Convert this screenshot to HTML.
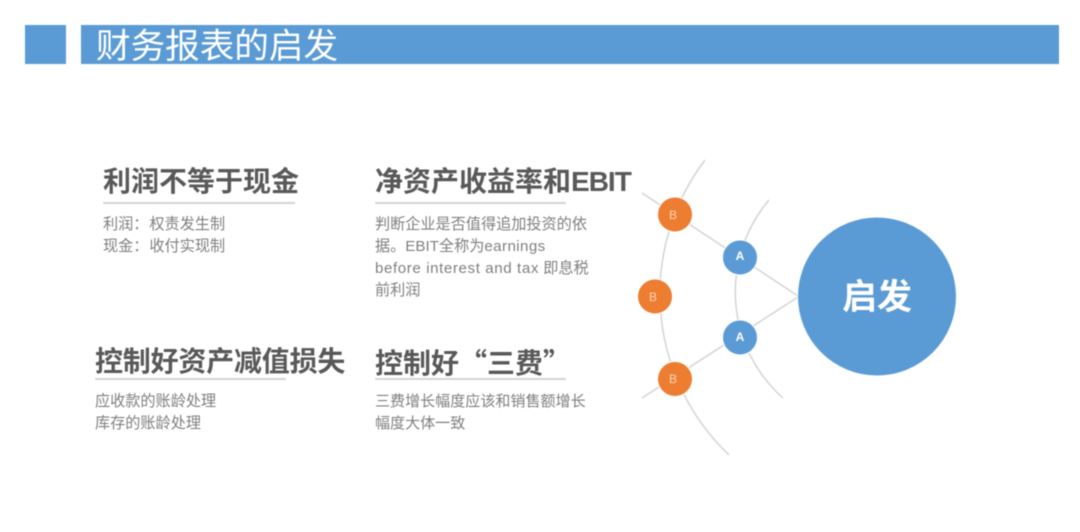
<!DOCTYPE html>
<html lang="zh"><head><meta charset="utf-8"><style>
html,body{margin:0;padding:0;background:#fff}
#p{position:relative;width:1080px;height:532px;overflow:hidden;background:#fff;font-family:"Liberation Sans","Noto Sans CJK SC",sans-serif;filter:blur(.4px)}
.t{position:absolute;white-space:nowrap}
.h{font-size:28px;font-weight:700;color:#595959;line-height:36px}
.b{font-size:15.15px;color:#7f7f7f;line-height:22px}
.r{position:absolute;height:2px;background:#d4d4d4}
.box{position:absolute;background:#5b9bd5}
.q{font-family:"Noto Sans CJK SC",sans-serif}
.w{letter-spacing:.58px}
svg{position:absolute;left:0;top:0}
</style></head><body><div id="p">
<div class="box" style="left:25px;top:25px;width:41px;height:39px"></div>
<div class="box" style="left:80.5px;top:25px;width:978.5px;height:39px"></div>
<div class="t" style="left:96px;top:22.5px;font-size:34.6px;line-height:48px;color:#fff;font-weight:400">财务报表的启发</div>

<div class="t h" style="left:103px;top:164px">利润不等于现金</div>
<div class="r" style="left:103px;top:202px;width:192px"></div>
<div class="t b" style="left:103px;top:213.5px">利润<span style="letter-spacing:1px">：</span>权责发生制<br>现金<span style="letter-spacing:1px">：</span>收付实现制</div>

<div class="t h" style="left:375px;top:164px">净资产收益率和<span style="letter-spacing:-1px">EBIT</span></div>
<div class="r" style="left:375px;top:202px;width:191px"></div>
<div class="t b" style="left:375px;top:214px">判断企业是否值得追加投资的依<br>据。EBIT全称为<span style="letter-spacing:.4px">earnings</span><br><span class="w">before interest and tax</span> 即息税<br>前利润</div>

<div class="t h" style="left:95px;top:343.5px;letter-spacing:-.2px">控制好资产减值损失</div>
<div class="r" style="left:95px;top:378px;width:191px"></div>
<div class="t b" style="left:95px;top:391px">应收款的账龄处理<br>库存的账龄处理</div>

<div class="t h" style="left:375px;top:343.5px">控制好<span class="q">“</span>三费<span class="q">”</span></div>
<div class="r" style="left:375px;top:378px;width:191px"></div>
<div class="t b" style="left:375px;top:391px;font-size:15.05px">三费增长幅度应该和销售额增长<br>幅度大体一致</div>

<svg width="1080" height="532" viewBox="0 0 1080 532">
<g fill="none" stroke="#d4d4d4" stroke-width="1.5">
<path d="M705 160A222 222 0 0 0 729 455"/>
<path d="M769 200A142 142 0 0 0 783 398"/>
<path d="M798 296L642 193"/>
<path d="M798 297L642 398"/>
</g>
<g fill="#ed7d31" stroke="#fff" stroke-width="1">
<circle cx="675" cy="214.5" r="17.5"/>
<circle cx="655" cy="296.5" r="17.5"/>
<circle cx="675" cy="379" r="17.5"/>
</g>
<g fill="#5b9bd5" stroke="#fff" stroke-width="1">
<circle cx="740" cy="257.5" r="17.5"/>
<circle cx="740" cy="337.5" r="17.5"/>
<circle cx="877" cy="296.5" r="79.5"/>
</g>
<g font-family="Liberation Sans, Noto Sans CJK SC, sans-serif" text-anchor="middle">
<g font-size="12" fill="#fbd5b8">
<text x="673" y="219">B</text>
<text x="653" y="301">B</text>
<text x="673" y="383">B</text>
</g>
<g font-size="12" font-weight="700" fill="#fff">
<text x="740" y="260">A</text>
<text x="740" y="341">A</text>
</g>
<text x="877" y="309" font-size="35" font-weight="700" fill="#fff">启发</text>
</g>
</svg>
</div></body></html>
